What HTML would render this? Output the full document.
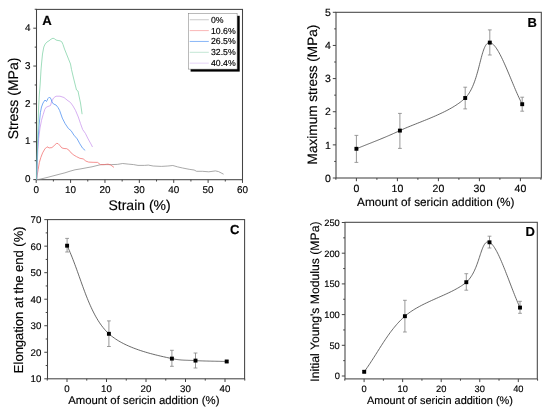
<!DOCTYPE html>
<html><head><meta charset="utf-8"><title>Figure</title>
<style>
html,body{margin:0;padding:0;background:#fff;}
svg{display:block;font-family:"Liberation Sans",Arial,sans-serif;}
text{stroke:#000;stroke-width:0.15px;text-rendering:geometricPrecision;}
</style></head><body>
<svg width="550" height="410" viewBox="0 0 550 410">
<rect width="550" height="410" fill="#fff"/>
<rect x="36.50" y="9.40" width="206.00" height="170.30" fill="none" stroke="#444" stroke-width="1.05"/>
<line x1="36.20" y1="179.70" x2="36.20" y2="182.90" stroke="#444" stroke-width="1.0"/>
<text x="36.20" y="193.40" font-size="9.9" text-anchor="middle" font-weight="normal" fill="#000">0</text>
<line x1="70.58" y1="179.70" x2="70.58" y2="182.90" stroke="#444" stroke-width="1.0"/>
<text x="70.58" y="193.40" font-size="9.9" text-anchor="middle" font-weight="normal" fill="#000">10</text>
<line x1="104.96" y1="179.70" x2="104.96" y2="182.90" stroke="#444" stroke-width="1.0"/>
<text x="104.96" y="193.40" font-size="9.9" text-anchor="middle" font-weight="normal" fill="#000">20</text>
<line x1="139.34" y1="179.70" x2="139.34" y2="182.90" stroke="#444" stroke-width="1.0"/>
<text x="139.34" y="193.40" font-size="9.9" text-anchor="middle" font-weight="normal" fill="#000">30</text>
<line x1="173.72" y1="179.70" x2="173.72" y2="182.90" stroke="#444" stroke-width="1.0"/>
<text x="173.72" y="193.40" font-size="9.9" text-anchor="middle" font-weight="normal" fill="#000">40</text>
<line x1="208.10" y1="179.70" x2="208.10" y2="182.90" stroke="#444" stroke-width="1.0"/>
<text x="208.10" y="193.40" font-size="9.9" text-anchor="middle" font-weight="normal" fill="#000">50</text>
<line x1="242.48" y1="179.70" x2="242.48" y2="182.90" stroke="#444" stroke-width="1.0"/>
<text x="242.48" y="193.40" font-size="9.9" text-anchor="middle" font-weight="normal" fill="#000">60</text>
<line x1="53.39" y1="179.70" x2="53.39" y2="181.50" stroke="#444" stroke-width="1.0"/>
<line x1="87.77" y1="179.70" x2="87.77" y2="181.50" stroke="#444" stroke-width="1.0"/>
<line x1="122.15" y1="179.70" x2="122.15" y2="181.50" stroke="#444" stroke-width="1.0"/>
<line x1="156.53" y1="179.70" x2="156.53" y2="181.50" stroke="#444" stroke-width="1.0"/>
<line x1="190.91" y1="179.70" x2="190.91" y2="181.50" stroke="#444" stroke-width="1.0"/>
<line x1="225.29" y1="179.70" x2="225.29" y2="181.50" stroke="#444" stroke-width="1.0"/>
<line x1="33.30" y1="179.60" x2="36.50" y2="179.60" stroke="#444" stroke-width="1.0"/>
<text x="30.60" y="182.34" font-size="9.9" text-anchor="end" font-weight="normal" fill="#000">0</text>
<line x1="33.30" y1="141.75" x2="36.50" y2="141.75" stroke="#444" stroke-width="1.0"/>
<text x="30.60" y="144.49" font-size="9.9" text-anchor="end" font-weight="normal" fill="#000">1</text>
<line x1="33.30" y1="103.90" x2="36.50" y2="103.90" stroke="#444" stroke-width="1.0"/>
<text x="30.60" y="106.64" font-size="9.9" text-anchor="end" font-weight="normal" fill="#000">2</text>
<line x1="33.30" y1="66.05" x2="36.50" y2="66.05" stroke="#444" stroke-width="1.0"/>
<text x="30.60" y="68.79" font-size="9.9" text-anchor="end" font-weight="normal" fill="#000">3</text>
<line x1="33.30" y1="28.20" x2="36.50" y2="28.20" stroke="#444" stroke-width="1.0"/>
<text x="30.60" y="30.94" font-size="9.9" text-anchor="end" font-weight="normal" fill="#000">4</text>
<line x1="34.70" y1="160.67" x2="36.50" y2="160.67" stroke="#444" stroke-width="1.0"/>
<line x1="34.70" y1="122.82" x2="36.50" y2="122.82" stroke="#444" stroke-width="1.0"/>
<line x1="34.70" y1="84.97" x2="36.50" y2="84.97" stroke="#444" stroke-width="1.0"/>
<line x1="34.70" y1="47.12" x2="36.50" y2="47.12" stroke="#444" stroke-width="1.0"/>
<line x1="34.70" y1="9.27" x2="36.50" y2="9.27" stroke="#444" stroke-width="1.0"/>
<path d="M36.60,179.70 L40.00,179.20 L47.00,177.50 L55.00,175.40 L58.00,174.60 L65.00,172.80 L70.00,171.20 L75.00,169.80 L80.00,169.00 L88.00,167.50 L92.00,166.80 L96.00,165.80 L100.50,164.70 L106.40,164.60 L111.80,164.60 L117.30,164.40 L122.70,163.50 L128.20,164.10 L133.60,164.60 L138.00,165.40 L144.50,165.40 L148.30,165.10 L153.20,166.00 L161.40,166.40 L167.90,166.00 L172.80,165.50 L177.70,166.90 L182.60,168.00 L189.20,169.30 L194.10,170.00 L196.60,171.30 L202.30,171.30 L208.80,171.80 L215.40,170.90 L218.60,171.60 L221.10,172.90 L223.60,174.20" fill="none" stroke="#8c8c8c" stroke-width="0.75" stroke-linejoin="round" />
<path d="M36.50,179.60 L37.10,175.90 L38.20,169.30 L39.30,162.70 L40.90,157.30 L42.60,152.90 L44.80,149.00 L47.00,146.80 L49.20,147.90 L51.90,147.60 L54.10,145.70 L56.30,143.50 L58.00,143.50 L59.60,145.20 L61.80,147.90 L64.00,148.50 L66.70,148.70 L68.90,150.10 L71.10,152.90 L73.90,155.10 L76.60,156.70 L79.90,158.30 L83.20,158.90 L85.90,161.10 L88.70,162.10 L93.10,162.30 L97.60,162.40 L100.40,164.60 L104.20,164.60 L108.00,164.10 L110.70,165.00 L114.00,167.40" fill="none" stroke="#f26d6d" stroke-width="0.75" stroke-linejoin="round" />
<path d="M36.70,179.60 L37.20,165.00 L37.90,150.00 L38.70,138.90 L40.00,128.00 L41.50,120.30 L43.10,114.80 L44.80,109.30 L46.40,107.10 L48.00,106.50 L50.50,105.50 L51.50,102.00 L53.50,98.00 L56.00,96.20 L60.00,96.20 L64.00,97.50 L67.00,100.00 L70.50,102.50 L73.00,106.00 L75.50,110.40 L78.30,117.00 L80.50,123.60 L82.70,129.60 L85.40,133.40 L88.10,138.90 L90.90,143.90 L92.50,147.00" fill="none" stroke="#c995ee" stroke-width="0.75" stroke-linejoin="round" />
<path d="M36.60,179.60 L37.00,165.00 L37.50,150.00 L38.10,138.90 L39.20,124.00 L40.40,112.60 L41.50,107.00 L43.00,103.00 L45.00,100.00 L46.50,101.50 L48.00,98.50 L49.50,97.00 L51.00,99.00 L52.00,102.00 L53.50,104.00 L56.00,105.00 L58.00,107.50 L59.60,110.40 L62.30,118.10 L65.10,123.60 L68.40,128.50 L71.10,130.70 L73.90,135.10 L77.20,138.90 L79.90,143.90 L82.70,148.30 L85.20,150.40" fill="none" stroke="#4a8df0" stroke-width="0.75" stroke-linejoin="round" />
<path d="M36.60,179.60 L36.90,165.00 L37.30,150.00 L37.70,135.00 L38.20,120.00 L38.70,106.00 L39.30,95.00 L40.10,85.00 L41.00,70.00 L41.50,64.00 L42.50,54.00 L43.80,47.00 L45.20,44.00 L47.00,42.00 L49.00,40.80 L51.00,39.20 L53.00,38.20 L54.50,38.80 L56.00,40.00 L58.00,40.50 L60.00,40.80 L61.80,41.80 L63.00,44.50 L64.50,49.00 L66.50,54.00 L68.50,59.00 L70.50,64.00 L71.50,69.50 L73.50,78.00 L75.50,86.00 L76.50,90.00 L78.00,91.00 L79.00,96.00 L80.50,103.00 L81.50,110.00 L82.10,114.20" fill="none" stroke="#7fd1a6" stroke-width="0.75" stroke-linejoin="round" />
<text x="18" y="98.5" font-size="14" text-anchor="middle" font-weight="normal" fill="#000" transform="rotate(-90 18 98.5)">Stress (MPa)</text>
<text x="139.60" y="209.50" font-size="14" text-anchor="middle" font-weight="normal" fill="#000">Strain (%)</text>
<text x="42.30" y="24.70" font-size="13.2" text-anchor="start" font-weight="bold" fill="#000">A</text>
<rect x="190.6" y="15.8" width="49.1" height="55.8" fill="#000"/>
<rect x="188.3" y="13.3" width="48.8" height="55.8" fill="#fff" stroke="#777" stroke-width="0.5"/>
<line x1="189.70" y1="19.75" x2="208.80" y2="19.75" stroke="#bdbdbd" stroke-width="0.8"/>
<text x="211.00" y="22.70" font-size="8.7" text-anchor="start" font-weight="normal" fill="#000">0%</text>
<line x1="189.70" y1="30.60" x2="208.80" y2="30.60" stroke="#f7a3a3" stroke-width="0.8"/>
<text x="211.00" y="33.55" font-size="8.7" text-anchor="start" font-weight="normal" fill="#000">10.6%</text>
<line x1="189.70" y1="41.45" x2="208.80" y2="41.45" stroke="#6aa3f5" stroke-width="0.8"/>
<text x="211.00" y="44.40" font-size="8.7" text-anchor="start" font-weight="normal" fill="#000">26.5%</text>
<line x1="189.70" y1="52.30" x2="208.80" y2="52.30" stroke="#b4e0ca" stroke-width="0.8"/>
<text x="211.00" y="55.25" font-size="8.7" text-anchor="start" font-weight="normal" fill="#000">32.5%</text>
<line x1="189.70" y1="63.15" x2="208.80" y2="63.15" stroke="#dfc8f4" stroke-width="0.8"/>
<text x="211.00" y="66.10" font-size="8.7" text-anchor="start" font-weight="normal" fill="#000">40.4%</text>
<rect x="336.00" y="12.30" width="205.30" height="165.70" fill="none" stroke="#444" stroke-width="1.05"/>
<line x1="356.40" y1="178.00" x2="356.40" y2="181.20" stroke="#444" stroke-width="1.0"/>
<text x="356.40" y="192.30" font-size="10.5" text-anchor="middle" font-weight="normal" fill="#000">0</text>
<line x1="397.40" y1="178.00" x2="397.40" y2="181.20" stroke="#444" stroke-width="1.0"/>
<text x="397.40" y="192.30" font-size="10.5" text-anchor="middle" font-weight="normal" fill="#000">10</text>
<line x1="438.40" y1="178.00" x2="438.40" y2="181.20" stroke="#444" stroke-width="1.0"/>
<text x="438.40" y="192.30" font-size="10.5" text-anchor="middle" font-weight="normal" fill="#000">20</text>
<line x1="479.40" y1="178.00" x2="479.40" y2="181.20" stroke="#444" stroke-width="1.0"/>
<text x="479.40" y="192.30" font-size="10.5" text-anchor="middle" font-weight="normal" fill="#000">30</text>
<line x1="520.40" y1="178.00" x2="520.40" y2="181.20" stroke="#444" stroke-width="1.0"/>
<text x="520.40" y="192.30" font-size="10.5" text-anchor="middle" font-weight="normal" fill="#000">40</text>
<line x1="335.90" y1="178.00" x2="335.90" y2="179.80" stroke="#444" stroke-width="1.0"/>
<line x1="376.90" y1="178.00" x2="376.90" y2="179.80" stroke="#444" stroke-width="1.0"/>
<line x1="417.90" y1="178.00" x2="417.90" y2="179.80" stroke="#444" stroke-width="1.0"/>
<line x1="458.90" y1="178.00" x2="458.90" y2="179.80" stroke="#444" stroke-width="1.0"/>
<line x1="499.90" y1="178.00" x2="499.90" y2="179.80" stroke="#444" stroke-width="1.0"/>
<line x1="540.90" y1="178.00" x2="540.90" y2="179.80" stroke="#444" stroke-width="1.0"/>
<line x1="332.80" y1="178.00" x2="336.00" y2="178.00" stroke="#444" stroke-width="1.0"/>
<text x="330.80" y="181.76" font-size="10.5" text-anchor="end" font-weight="normal" fill="#000">0</text>
<line x1="332.80" y1="144.86" x2="336.00" y2="144.86" stroke="#444" stroke-width="1.0"/>
<text x="330.80" y="148.62" font-size="10.5" text-anchor="end" font-weight="normal" fill="#000">1</text>
<line x1="332.80" y1="111.72" x2="336.00" y2="111.72" stroke="#444" stroke-width="1.0"/>
<text x="330.80" y="115.48" font-size="10.5" text-anchor="end" font-weight="normal" fill="#000">2</text>
<line x1="332.80" y1="78.58" x2="336.00" y2="78.58" stroke="#444" stroke-width="1.0"/>
<text x="330.80" y="82.34" font-size="10.5" text-anchor="end" font-weight="normal" fill="#000">3</text>
<line x1="332.80" y1="45.44" x2="336.00" y2="45.44" stroke="#444" stroke-width="1.0"/>
<text x="330.80" y="49.20" font-size="10.5" text-anchor="end" font-weight="normal" fill="#000">4</text>
<line x1="332.80" y1="12.30" x2="336.00" y2="12.30" stroke="#444" stroke-width="1.0"/>
<text x="330.80" y="16.06" font-size="10.5" text-anchor="end" font-weight="normal" fill="#000">5</text>
<line x1="334.20" y1="161.43" x2="336.00" y2="161.43" stroke="#444" stroke-width="1.0"/>
<line x1="334.20" y1="128.29" x2="336.00" y2="128.29" stroke="#444" stroke-width="1.0"/>
<line x1="334.20" y1="95.15" x2="336.00" y2="95.15" stroke="#444" stroke-width="1.0"/>
<line x1="334.20" y1="62.01" x2="336.00" y2="62.01" stroke="#444" stroke-width="1.0"/>
<line x1="334.20" y1="28.87" x2="336.00" y2="28.87" stroke="#444" stroke-width="1.0"/>
<path d="M356.40,148.80 L357.48,148.35 L358.55,147.91 L359.61,147.47 L360.65,147.04 L361.69,146.62 L362.72,146.21 L363.74,145.80 L364.75,145.39 L365.76,144.99 L366.76,144.59 L367.76,144.19 L368.76,143.79 L369.76,143.40 L370.76,143.00 L371.75,142.61 L372.75,142.21 L373.76,141.81 L374.76,141.41 L375.77,141.01 L376.79,140.60 L377.81,140.19 L378.84,139.77 L379.88,139.35 L380.93,138.92 L381.99,138.48 L383.06,138.03 L384.15,137.58 L385.25,137.12 L386.36,136.65 L387.49,136.16 L388.64,135.67 L389.80,135.16 L390.99,134.64 L392.19,134.11 L393.42,133.56 L394.67,133.00 L395.94,132.43 L397.23,131.83 L398.55,131.23 L399.90,130.60 L401.29,129.96 L402.72,129.32 L404.20,128.68 L405.73,128.03 L407.30,127.37 L408.90,126.71 L410.54,126.04 L412.22,125.37 L413.92,124.69 L415.65,124.00 L417.40,123.30 L419.17,122.60 L420.96,121.88 L422.76,121.16 L424.58,120.43 L426.40,119.69 L428.23,118.94 L430.07,118.18 L431.90,117.41 L433.73,116.62 L435.56,115.83 L437.37,115.02 L439.17,114.20 L440.96,113.37 L442.74,112.53 L444.49,111.67 L446.21,110.80 L447.91,109.91 L449.59,109.01 L451.23,108.09 L452.83,107.16 L454.40,106.21 L455.92,105.24 L457.40,104.26 L458.84,103.26 L460.22,102.25 L461.55,101.21 L462.83,100.16 L464.04,99.09 L465.20,98.00 L466.30,96.85 L467.34,95.61 L468.33,94.27 L469.27,92.86 L470.17,91.37 L471.02,89.81 L471.83,88.18 L472.60,86.51 L473.33,84.78 L474.03,83.01 L474.69,81.21 L475.33,79.37 L475.93,77.51 L476.51,75.64 L477.06,73.75 L477.60,71.87 L478.11,69.98 L478.61,68.11 L479.09,66.25 L479.56,64.41 L480.01,62.61 L480.47,60.84 L480.91,59.11 L481.35,57.43 L481.79,55.81 L482.23,54.25 L482.68,52.76 L483.13,51.34 L483.59,50.00 L484.06,48.76 L484.54,47.61 L485.03,46.56 L485.54,45.62 L486.08,44.79 L486.63,44.08 L487.21,43.50 L487.81,43.06 L488.44,42.76 L489.10,42.60 L489.80,42.60 L490.54,42.76 L491.28,43.06 L492.04,43.50 L492.80,44.09 L493.57,44.80 L494.36,45.63 L495.14,46.59 L495.94,47.65 L496.74,48.83 L497.55,50.10 L498.37,51.47 L499.19,52.93 L500.02,54.47 L500.86,56.08 L501.69,57.77 L502.54,59.52 L503.38,61.34 L504.23,63.20 L505.08,65.12 L505.94,67.07 L506.80,69.06 L507.66,71.08 L508.52,73.12 L509.38,75.18 L510.25,77.25 L511.11,79.33 L511.98,81.41 L512.84,83.48 L513.70,85.55 L514.56,87.59 L515.42,89.61 L516.28,91.60 L517.14,93.55 L517.99,95.46 L518.84,97.33 L519.69,99.14 L520.53,100.90 L521.37,102.58 L522.20,104.20" fill="none" stroke="#444" stroke-width="0.8" stroke-linejoin="round" />
<line x1="356.40" y1="135.40" x2="356.40" y2="162.40" stroke="#858585" stroke-width="0.85"/>
<line x1="354.50" y1="135.40" x2="358.30" y2="135.40" stroke="#858585" stroke-width="0.8"/>
<line x1="354.50" y1="162.40" x2="358.30" y2="162.40" stroke="#858585" stroke-width="0.8"/>
<line x1="399.90" y1="113.40" x2="399.90" y2="148.40" stroke="#858585" stroke-width="0.85"/>
<line x1="398.00" y1="113.40" x2="401.80" y2="113.40" stroke="#858585" stroke-width="0.8"/>
<line x1="398.00" y1="148.40" x2="401.80" y2="148.40" stroke="#858585" stroke-width="0.8"/>
<line x1="465.20" y1="87.20" x2="465.20" y2="108.90" stroke="#858585" stroke-width="0.85"/>
<line x1="463.30" y1="87.20" x2="467.10" y2="87.20" stroke="#858585" stroke-width="0.8"/>
<line x1="463.30" y1="108.90" x2="467.10" y2="108.90" stroke="#858585" stroke-width="0.8"/>
<line x1="489.80" y1="29.90" x2="489.80" y2="55.00" stroke="#858585" stroke-width="0.85"/>
<line x1="487.90" y1="29.90" x2="491.70" y2="29.90" stroke="#858585" stroke-width="0.8"/>
<line x1="487.90" y1="55.00" x2="491.70" y2="55.00" stroke="#858585" stroke-width="0.8"/>
<line x1="522.20" y1="97.20" x2="522.20" y2="111.20" stroke="#858585" stroke-width="0.85"/>
<line x1="520.30" y1="97.20" x2="524.10" y2="97.20" stroke="#858585" stroke-width="0.8"/>
<line x1="520.30" y1="111.20" x2="524.10" y2="111.20" stroke="#858585" stroke-width="0.8"/>
<rect x="354.45" y="146.85" width="3.9" height="3.9" fill="#000"/>
<rect x="397.95" y="128.65" width="3.9" height="3.9" fill="#000"/>
<rect x="463.25" y="96.05" width="3.9" height="3.9" fill="#000"/>
<rect x="487.85" y="40.65" width="3.9" height="3.9" fill="#000"/>
<rect x="520.25" y="102.25" width="3.9" height="3.9" fill="#000"/>
<text x="316.8" y="94.5" font-size="13.6" text-anchor="middle" transform="rotate(-90 316.8 94.5)">Maximum stress (MPa)</text>
<text x="435.80" y="205.60" font-size="11.8" text-anchor="middle" font-weight="normal" fill="#000">Amount of sericin addition (%)</text>
<text x="527.60" y="27.40" font-size="13" text-anchor="start" font-weight="bold" fill="#000">B</text>
<rect x="47.50" y="219.60" width="197.10" height="159.20" fill="none" stroke="#444" stroke-width="1.05"/>
<line x1="67.00" y1="378.80" x2="67.00" y2="382.00" stroke="#444" stroke-width="1.0"/>
<text x="67.00" y="391.70" font-size="9.7" text-anchor="middle" font-weight="normal" fill="#000">0</text>
<line x1="106.50" y1="378.80" x2="106.50" y2="382.00" stroke="#444" stroke-width="1.0"/>
<text x="106.50" y="391.70" font-size="9.7" text-anchor="middle" font-weight="normal" fill="#000">10</text>
<line x1="146.00" y1="378.80" x2="146.00" y2="382.00" stroke="#444" stroke-width="1.0"/>
<text x="146.00" y="391.70" font-size="9.7" text-anchor="middle" font-weight="normal" fill="#000">20</text>
<line x1="185.50" y1="378.80" x2="185.50" y2="382.00" stroke="#444" stroke-width="1.0"/>
<text x="185.50" y="391.70" font-size="9.7" text-anchor="middle" font-weight="normal" fill="#000">30</text>
<line x1="225.00" y1="378.80" x2="225.00" y2="382.00" stroke="#444" stroke-width="1.0"/>
<text x="225.00" y="391.70" font-size="9.7" text-anchor="middle" font-weight="normal" fill="#000">40</text>
<line x1="47.25" y1="378.80" x2="47.25" y2="380.60" stroke="#444" stroke-width="1.0"/>
<line x1="86.75" y1="378.80" x2="86.75" y2="380.60" stroke="#444" stroke-width="1.0"/>
<line x1="126.25" y1="378.80" x2="126.25" y2="380.60" stroke="#444" stroke-width="1.0"/>
<line x1="165.75" y1="378.80" x2="165.75" y2="380.60" stroke="#444" stroke-width="1.0"/>
<line x1="205.25" y1="378.80" x2="205.25" y2="380.60" stroke="#444" stroke-width="1.0"/>
<line x1="244.75" y1="378.80" x2="244.75" y2="380.60" stroke="#444" stroke-width="1.0"/>
<line x1="44.30" y1="378.80" x2="47.50" y2="378.80" stroke="#444" stroke-width="1.0"/>
<text x="41.30" y="382.27" font-size="9.7" text-anchor="end" font-weight="normal" fill="#000">10</text>
<line x1="44.30" y1="352.27" x2="47.50" y2="352.27" stroke="#444" stroke-width="1.0"/>
<text x="41.30" y="355.74" font-size="9.7" text-anchor="end" font-weight="normal" fill="#000">20</text>
<line x1="44.30" y1="325.74" x2="47.50" y2="325.74" stroke="#444" stroke-width="1.0"/>
<text x="41.30" y="329.21" font-size="9.7" text-anchor="end" font-weight="normal" fill="#000">30</text>
<line x1="44.30" y1="299.21" x2="47.50" y2="299.21" stroke="#444" stroke-width="1.0"/>
<text x="41.30" y="302.68" font-size="9.7" text-anchor="end" font-weight="normal" fill="#000">40</text>
<line x1="44.30" y1="272.68" x2="47.50" y2="272.68" stroke="#444" stroke-width="1.0"/>
<text x="41.30" y="276.15" font-size="9.7" text-anchor="end" font-weight="normal" fill="#000">50</text>
<line x1="44.30" y1="246.15" x2="47.50" y2="246.15" stroke="#444" stroke-width="1.0"/>
<text x="41.30" y="249.62" font-size="9.7" text-anchor="end" font-weight="normal" fill="#000">60</text>
<line x1="44.30" y1="219.62" x2="47.50" y2="219.62" stroke="#444" stroke-width="1.0"/>
<text x="41.30" y="223.09" font-size="9.7" text-anchor="end" font-weight="normal" fill="#000">70</text>
<line x1="45.70" y1="365.54" x2="47.50" y2="365.54" stroke="#444" stroke-width="1.0"/>
<line x1="45.70" y1="339.00" x2="47.50" y2="339.00" stroke="#444" stroke-width="1.0"/>
<line x1="45.70" y1="312.48" x2="47.50" y2="312.48" stroke="#444" stroke-width="1.0"/>
<line x1="45.70" y1="285.94" x2="47.50" y2="285.94" stroke="#444" stroke-width="1.0"/>
<line x1="45.70" y1="259.42" x2="47.50" y2="259.42" stroke="#444" stroke-width="1.0"/>
<line x1="45.70" y1="232.89" x2="47.50" y2="232.89" stroke="#444" stroke-width="1.0"/>
<path d="M67.10,245.70 L68.13,247.92 L69.14,250.18 L70.13,252.47 L71.10,254.80 L72.05,257.15 L72.98,259.52 L73.90,261.92 L74.81,264.34 L75.71,266.77 L76.60,269.21 L77.48,271.67 L78.36,274.13 L79.24,276.60 L80.11,279.06 L80.99,281.53 L81.87,283.99 L82.76,286.44 L83.65,288.88 L84.55,291.31 L85.46,293.72 L86.39,296.11 L87.33,298.47 L88.28,300.82 L89.26,303.13 L90.25,305.41 L91.27,307.66 L92.31,309.87 L93.38,312.04 L94.47,314.16 L95.59,316.24 L96.75,318.27 L97.94,320.24 L99.17,322.16 L100.43,324.02 L101.73,325.82 L103.08,327.56 L104.46,329.23 L105.89,330.83 L107.37,332.35 L108.90,333.80 L110.17,334.92 L111.49,336.00 L112.85,337.05 L114.25,338.06 L115.69,339.05 L117.16,340.00 L118.67,340.93 L120.21,341.82 L121.78,342.69 L123.38,343.52 L125.00,344.33 L126.64,345.12 L128.30,345.87 L129.98,346.60 L131.68,347.31 L133.38,347.99 L135.10,348.64 L136.82,349.28 L138.55,349.89 L140.29,350.48 L142.02,351.04 L143.75,351.59 L145.48,352.12 L147.20,352.62 L148.91,353.11 L150.61,353.58 L152.30,354.03 L153.97,354.47 L155.62,354.89 L157.25,355.29 L158.86,355.68 L160.44,356.05 L162.00,356.41 L163.52,356.76 L165.01,357.09 L166.47,357.42 L167.89,357.73 L169.27,358.03 L170.61,358.32 L171.90,358.60 L172.57,358.74 L173.23,358.88 L173.89,359.00 L174.53,359.12 L175.16,359.23 L175.79,359.33 L176.41,359.43 L177.02,359.52 L177.63,359.60 L178.22,359.67 L178.82,359.74 L179.41,359.81 L179.99,359.87 L180.57,359.92 L181.14,359.97 L181.71,360.02 L182.28,360.06 L182.85,360.09 L183.41,360.13 L183.97,360.16 L184.53,360.19 L185.09,360.21 L185.65,360.23 L186.20,360.26 L186.76,360.28 L187.32,360.29 L187.88,360.31 L188.45,360.33 L189.01,360.35 L189.58,360.36 L190.15,360.38 L190.72,360.40 L191.30,360.42 L191.89,360.44 L192.47,360.46 L193.07,360.48 L193.66,360.51 L194.27,360.53 L194.88,360.57 L195.50,360.60 L196.26,360.64 L197.02,360.68 L197.78,360.72 L198.55,360.76 L199.32,360.79 L200.10,360.83 L200.88,360.86 L201.67,360.89 L202.45,360.92 L203.24,360.94 L204.04,360.97 L204.83,360.99 L205.63,361.02 L206.43,361.04 L207.24,361.06 L208.04,361.08 L208.85,361.10 L209.66,361.12 L210.47,361.14 L211.28,361.16 L212.09,361.18 L212.91,361.19 L213.72,361.21 L214.53,361.23 L215.35,361.24 L216.17,361.26 L216.98,361.27 L217.80,361.29 L218.61,361.31 L219.43,361.32 L220.24,361.34 L221.05,361.36 L221.86,361.38 L222.67,361.40 L223.48,361.42 L224.29,361.44 L225.10,361.46 L225.90,361.48 L226.70,361.50" fill="none" stroke="#444" stroke-width="0.8" stroke-linejoin="round" />
<line x1="67.10" y1="238.40" x2="67.10" y2="252.00" stroke="#858585" stroke-width="0.85"/>
<line x1="65.20" y1="238.40" x2="69.00" y2="238.40" stroke="#858585" stroke-width="0.8"/>
<line x1="65.20" y1="252.00" x2="69.00" y2="252.00" stroke="#858585" stroke-width="0.8"/>
<line x1="108.90" y1="320.90" x2="108.90" y2="346.50" stroke="#858585" stroke-width="0.85"/>
<line x1="107.00" y1="320.90" x2="110.80" y2="320.90" stroke="#858585" stroke-width="0.8"/>
<line x1="107.00" y1="346.50" x2="110.80" y2="346.50" stroke="#858585" stroke-width="0.8"/>
<line x1="171.90" y1="350.30" x2="171.90" y2="366.30" stroke="#858585" stroke-width="0.85"/>
<line x1="170.00" y1="350.30" x2="173.80" y2="350.30" stroke="#858585" stroke-width="0.8"/>
<line x1="170.00" y1="366.30" x2="173.80" y2="366.30" stroke="#858585" stroke-width="0.8"/>
<line x1="195.50" y1="353.00" x2="195.50" y2="368.00" stroke="#858585" stroke-width="0.85"/>
<line x1="193.60" y1="353.00" x2="197.40" y2="353.00" stroke="#858585" stroke-width="0.8"/>
<line x1="193.60" y1="368.00" x2="197.40" y2="368.00" stroke="#858585" stroke-width="0.8"/>
<line x1="226.70" y1="360.40" x2="226.70" y2="362.40" stroke="#858585" stroke-width="0.85"/>
<line x1="224.80" y1="360.40" x2="228.60" y2="360.40" stroke="#858585" stroke-width="0.8"/>
<line x1="224.80" y1="362.40" x2="228.60" y2="362.40" stroke="#858585" stroke-width="0.8"/>
<rect x="65.15" y="243.75" width="3.9" height="3.9" fill="#000"/>
<rect x="106.95" y="331.85" width="3.9" height="3.9" fill="#000"/>
<rect x="169.95" y="356.65" width="3.9" height="3.9" fill="#000"/>
<rect x="193.55" y="358.65" width="3.9" height="3.9" fill="#000"/>
<rect x="224.75" y="359.55" width="3.9" height="3.9" fill="#000"/>
<text x="22.6" y="299.8" font-size="13.0" text-anchor="middle" transform="rotate(-90 22.6 299.8)">Elongation at the end (%)</text>
<text x="143.80" y="403.50" font-size="11.35" text-anchor="middle" font-weight="normal" fill="#000">Amount of sericin addition (%)</text>
<text x="229.90" y="234.40" font-size="13" text-anchor="start" font-weight="bold" fill="#000">C</text>
<rect x="345.00" y="222.30" width="192.30" height="156.60" fill="none" stroke="#444" stroke-width="1.05"/>
<line x1="364.10" y1="378.90" x2="364.10" y2="382.10" stroke="#444" stroke-width="1.0"/>
<text x="364.10" y="392.20" font-size="9.3" text-anchor="middle" font-weight="normal" fill="#000">0</text>
<line x1="402.65" y1="378.90" x2="402.65" y2="382.10" stroke="#444" stroke-width="1.0"/>
<text x="402.65" y="392.20" font-size="9.3" text-anchor="middle" font-weight="normal" fill="#000">10</text>
<line x1="441.20" y1="378.90" x2="441.20" y2="382.10" stroke="#444" stroke-width="1.0"/>
<text x="441.20" y="392.20" font-size="9.3" text-anchor="middle" font-weight="normal" fill="#000">20</text>
<line x1="479.75" y1="378.90" x2="479.75" y2="382.10" stroke="#444" stroke-width="1.0"/>
<text x="479.75" y="392.20" font-size="9.3" text-anchor="middle" font-weight="normal" fill="#000">30</text>
<line x1="518.30" y1="378.90" x2="518.30" y2="382.10" stroke="#444" stroke-width="1.0"/>
<text x="518.30" y="392.20" font-size="9.3" text-anchor="middle" font-weight="normal" fill="#000">40</text>
<line x1="344.83" y1="378.90" x2="344.83" y2="380.70" stroke="#444" stroke-width="1.0"/>
<line x1="383.38" y1="378.90" x2="383.38" y2="380.70" stroke="#444" stroke-width="1.0"/>
<line x1="421.93" y1="378.90" x2="421.93" y2="380.70" stroke="#444" stroke-width="1.0"/>
<line x1="460.48" y1="378.90" x2="460.48" y2="380.70" stroke="#444" stroke-width="1.0"/>
<line x1="499.03" y1="378.90" x2="499.03" y2="380.70" stroke="#444" stroke-width="1.0"/>
<line x1="537.58" y1="378.90" x2="537.58" y2="380.70" stroke="#444" stroke-width="1.0"/>
<line x1="341.80" y1="376.00" x2="345.00" y2="376.00" stroke="#444" stroke-width="1.0"/>
<text x="339.80" y="379.33" font-size="9.3" text-anchor="end" font-weight="normal" fill="#000">0</text>
<line x1="341.80" y1="345.30" x2="345.00" y2="345.30" stroke="#444" stroke-width="1.0"/>
<text x="339.80" y="348.63" font-size="9.3" text-anchor="end" font-weight="normal" fill="#000">50</text>
<line x1="341.80" y1="314.60" x2="345.00" y2="314.60" stroke="#444" stroke-width="1.0"/>
<text x="339.80" y="317.93" font-size="9.3" text-anchor="end" font-weight="normal" fill="#000">100</text>
<line x1="341.80" y1="283.90" x2="345.00" y2="283.90" stroke="#444" stroke-width="1.0"/>
<text x="339.80" y="287.23" font-size="9.3" text-anchor="end" font-weight="normal" fill="#000">150</text>
<line x1="341.80" y1="253.20" x2="345.00" y2="253.20" stroke="#444" stroke-width="1.0"/>
<text x="339.80" y="256.53" font-size="9.3" text-anchor="end" font-weight="normal" fill="#000">200</text>
<line x1="341.80" y1="222.50" x2="345.00" y2="222.50" stroke="#444" stroke-width="1.0"/>
<text x="339.80" y="225.83" font-size="9.3" text-anchor="end" font-weight="normal" fill="#000">250</text>
<line x1="343.20" y1="360.65" x2="345.00" y2="360.65" stroke="#444" stroke-width="1.0"/>
<line x1="343.20" y1="329.95" x2="345.00" y2="329.95" stroke="#444" stroke-width="1.0"/>
<line x1="343.20" y1="299.25" x2="345.00" y2="299.25" stroke="#444" stroke-width="1.0"/>
<line x1="343.20" y1="268.55" x2="345.00" y2="268.55" stroke="#444" stroke-width="1.0"/>
<line x1="343.20" y1="237.85" x2="345.00" y2="237.85" stroke="#444" stroke-width="1.0"/>
<path d="M364.20,371.80 L365.21,370.40 L366.21,368.99 L367.20,367.57 L368.18,366.14 L369.15,364.70 L370.11,363.25 L371.06,361.80 L372.01,360.33 L372.95,358.87 L373.89,357.39 L374.83,355.92 L375.76,354.44 L376.69,352.96 L377.62,351.48 L378.55,350.00 L379.49,348.52 L380.42,347.05 L381.36,345.58 L382.31,344.11 L383.26,342.65 L384.21,341.20 L385.18,339.75 L386.15,338.31 L387.13,336.88 L388.12,335.47 L389.12,334.06 L390.14,332.67 L391.17,331.29 L392.21,329.93 L393.27,328.58 L394.34,327.25 L395.44,325.94 L396.54,324.64 L397.67,323.37 L398.82,322.12 L399.99,320.89 L401.18,319.68 L402.40,318.49 L403.64,317.33 L404.90,316.20 L406.20,315.10 L407.55,314.02 L408.94,312.97 L410.37,311.95 L411.85,310.96 L413.35,309.99 L414.89,309.04 L416.47,308.11 L418.07,307.21 L419.69,306.32 L421.34,305.45 L423.00,304.60 L424.68,303.76 L426.38,302.94 L428.09,302.13 L429.80,301.33 L431.52,300.54 L433.25,299.76 L434.97,298.99 L436.69,298.22 L438.41,297.46 L440.12,296.70 L441.81,295.94 L443.50,295.19 L445.16,294.43 L446.81,293.68 L448.44,292.92 L450.04,292.15 L451.61,291.38 L453.15,290.61 L454.66,289.82 L456.13,289.03 L457.57,288.23 L458.96,287.41 L460.31,286.58 L461.61,285.74 L462.87,284.88 L464.07,284.01 L465.21,283.11 L466.30,282.20 L467.33,281.24 L468.31,280.21 L469.25,279.12 L470.13,277.98 L470.98,276.78 L471.78,275.53 L472.54,274.24 L473.27,272.91 L473.96,271.56 L474.61,270.17 L475.24,268.77 L475.84,267.35 L476.41,265.92 L476.95,264.48 L477.48,263.05 L477.98,261.62 L478.46,260.19 L478.93,258.79 L479.39,257.40 L479.83,256.04 L480.26,254.72 L480.69,253.42 L481.11,252.17 L481.53,250.97 L481.94,249.82 L482.36,248.72 L482.78,247.69 L483.21,246.72 L483.64,245.83 L484.08,245.02 L484.54,244.28 L485.00,243.64 L485.49,243.09 L485.99,242.64 L486.51,242.29 L487.06,242.06 L487.63,241.93 L488.22,241.93 L488.84,242.05 L489.50,242.30 L490.19,242.69 L490.90,243.22 L491.61,243.88 L492.33,244.65 L493.05,245.55 L493.79,246.55 L494.53,247.66 L495.28,248.88 L496.04,250.19 L496.80,251.59 L497.57,253.07 L498.35,254.64 L499.13,256.27 L499.91,257.98 L500.70,259.75 L501.49,261.58 L502.29,263.47 L503.09,265.40 L503.89,267.37 L504.70,269.38 L505.50,271.43 L506.31,273.50 L507.12,275.59 L507.94,277.70 L508.75,279.81 L509.56,281.94 L510.38,284.06 L511.19,286.18 L512.00,288.28 L512.81,290.38 L513.62,292.45 L514.43,294.49 L515.23,296.50 L516.04,298.47 L516.84,300.41 L517.63,302.29 L518.43,304.12 L519.22,305.89 L520.00,307.60" fill="none" stroke="#444" stroke-width="0.8" stroke-linejoin="round" />
<line x1="364.20" y1="370.60" x2="364.20" y2="372.60" stroke="#858585" stroke-width="0.85"/>
<line x1="362.30" y1="370.60" x2="366.10" y2="370.60" stroke="#858585" stroke-width="0.8"/>
<line x1="362.30" y1="372.60" x2="366.10" y2="372.60" stroke="#858585" stroke-width="0.8"/>
<line x1="404.90" y1="300.30" x2="404.90" y2="332.00" stroke="#858585" stroke-width="0.85"/>
<line x1="403.00" y1="300.30" x2="406.80" y2="300.30" stroke="#858585" stroke-width="0.8"/>
<line x1="403.00" y1="332.00" x2="406.80" y2="332.00" stroke="#858585" stroke-width="0.8"/>
<line x1="466.30" y1="273.70" x2="466.30" y2="290.20" stroke="#858585" stroke-width="0.85"/>
<line x1="464.40" y1="273.70" x2="468.20" y2="273.70" stroke="#858585" stroke-width="0.8"/>
<line x1="464.40" y1="290.20" x2="468.20" y2="290.20" stroke="#858585" stroke-width="0.8"/>
<line x1="489.50" y1="236.20" x2="489.50" y2="248.00" stroke="#858585" stroke-width="0.85"/>
<line x1="487.60" y1="236.20" x2="491.40" y2="236.20" stroke="#858585" stroke-width="0.8"/>
<line x1="487.60" y1="248.00" x2="491.40" y2="248.00" stroke="#858585" stroke-width="0.8"/>
<line x1="520.00" y1="301.30" x2="520.00" y2="313.30" stroke="#858585" stroke-width="0.85"/>
<line x1="518.10" y1="301.30" x2="521.90" y2="301.30" stroke="#858585" stroke-width="0.8"/>
<line x1="518.10" y1="313.30" x2="521.90" y2="313.30" stroke="#858585" stroke-width="0.8"/>
<rect x="362.25" y="369.85" width="3.9" height="3.9" fill="#000"/>
<rect x="402.95" y="314.25" width="3.9" height="3.9" fill="#000"/>
<rect x="464.35" y="280.25" width="3.9" height="3.9" fill="#000"/>
<rect x="487.55" y="240.35" width="3.9" height="3.9" fill="#000"/>
<rect x="518.05" y="305.65" width="3.9" height="3.9" fill="#000"/>
<text x="318.7" y="301.6" font-size="12.2" text-anchor="middle" transform="rotate(-90 318.7 301.6)">Initial Young's Modulus (MPa)</text>
<text x="440.00" y="404.00" font-size="10.95" text-anchor="middle" font-weight="normal" fill="#000">Amount of sericin addition (%)</text>
<text x="525.60" y="236.10" font-size="13" text-anchor="start" font-weight="bold" fill="#000">D</text>
</svg>
</body></html>
